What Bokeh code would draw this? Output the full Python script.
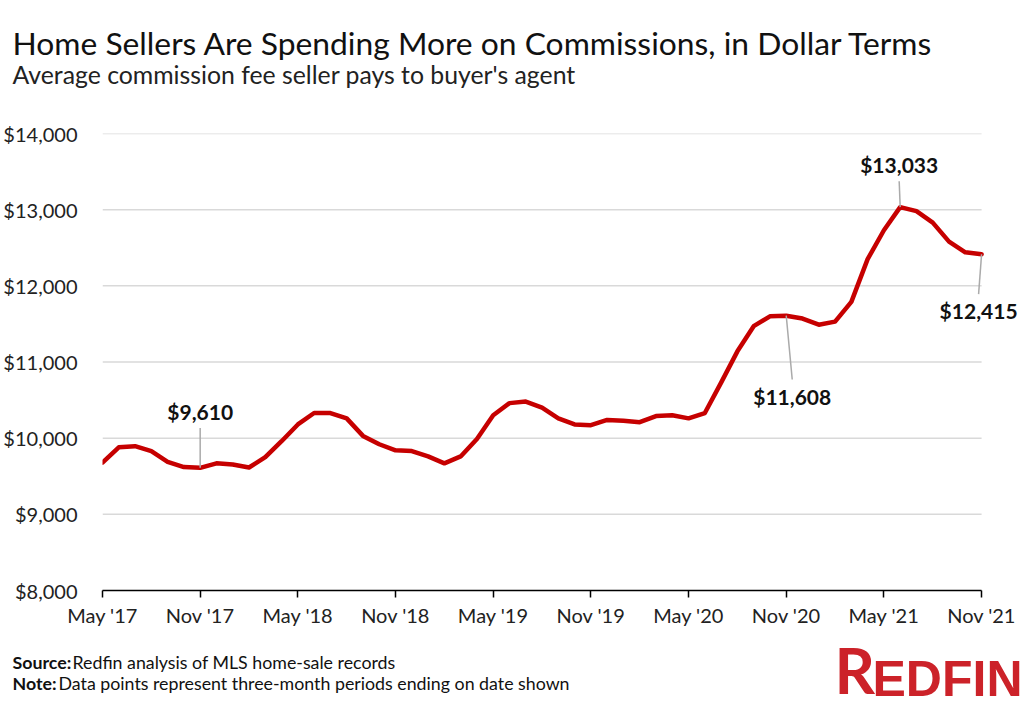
from bokeh.plotting import figure
from bokeh.layouts import column
from bokeh.models import Label, FixedTicker, Range1d, ColumnDataSource
from bokeh.core.properties import value
from bokeh.embed import file_html
from bokeh.resources import INLINE

# Average commission fee seller pays to buyer's agent, monthly (three-month periods)
month_labels = ["May '17", "Nov '17", "May '18", "Nov '18", "May '19",
                "Nov '19", "May '20", "Nov '20", "May '21", "Nov '21"]
commission = [
    9680, 9880, 9895, 9830, 9690, 9620, 9610, 9670, 9655, 9615, 9750, 9960,
    10180, 10330, 10330, 10260, 10030, 9920, 9840, 9830, 9760, 9670, 9760, 9990,
    10300, 10460, 10480, 10400, 10260, 10180, 10170, 10240, 10230, 10210, 10290, 10300,
    10260, 10330, 10730, 11140, 11470, 11600, 11608, 11570, 11490, 11530, 11790, 12350,
    12730, 13033, 12980, 12830, 12580, 12440, 12415,
]
months = list(range(len(commission)))
y_ticks = [8000, 9000, 10000, 11000, 12000, 13000, 14000]

# callouts: (month index, text, label dx px, label dy px)
callouts = [
    (6, "$9,610", 0, 44),
    (42, "$11,608", 6, -68),
    (49, "$13,033", -1, 30),
    (54, "$12,415", -3, -44),
]

FONT = "Lato"
W = 1024
N = len(commission)


def text_panel(height):
    """A blank figure whose data coordinates are canvas pixels (y downwards)."""
    f = figure(width=W, height=height, output_backend="svg", toolbar_location=None,
               x_range=Range1d(0, W), y_range=Range1d(height, 0),
               x_axis_location=None, y_axis_location=None,
               min_border=0, outline_line_color=None, frame_align=False)
    f.grid.visible = False
    return f


# ---------- header ----------
HEAD_H = 100
head = text_panel(HEAD_H)
head.text(x=[12], y=[42], text=["Home Sellers Are Spending More on Commissions, in Dollar Terms"],
          text_font=value(FONT), text_font_size="31.8px", text_color="#111111",
          text_baseline="alphabetic")
head.text(x=[12], y=[74], text=["Average commission fee seller pays to buyer's agent"],
          text_font=value(FONT), text_font_size="24.8px", text_color="#222222",
          text_baseline="alphabetic")

# ---------- main chart ----------
MAIN_H = 529
TOP, BOTTOM, LEFT, RIGHT = 33, 38, 100, 4
frame_w = W - LEFT - RIGHT
x_end = (N - 1) * frame_w / 881.0   # Nov '21 sits at the end of the axis line

p = figure(width=W, height=MAIN_H, output_backend="svg", toolbar_location=None,
           x_range=Range1d(0, x_end), y_range=Range1d(8000, 14000),
           min_border_left=LEFT, min_border_right=RIGHT,
           min_border_top=TOP, min_border_bottom=BOTTOM, frame_align=False)
p.outline_line_color = None
p.xgrid.grid_line_color = None
p.ygrid.grid_line_color = None

# horizontal gridlines that stop at the last month
p.segment(x0=[0] * (len(y_ticks) - 1), x1=[N - 1] * (len(y_ticks) - 1),
          y0=y_ticks[1:], y1=y_ticks[1:], line_color="#d9d9d9", line_width=1.5)

p.yaxis.ticker = FixedTicker(ticks=y_ticks)
p.yaxis.major_label_overrides = {t: "${:,}".format(t) for t in y_ticks}
p.yaxis.axis_line_color = None
p.yaxis.major_tick_line_color = None
p.yaxis.minor_tick_line_color = None
p.yaxis.major_label_text_font = FONT
p.yaxis.major_label_text_font_size = "20px"
p.yaxis.major_label_text_color = "#222222"
p.yaxis.major_label_standoff = 19

x_ticks = list(range(0, N, 6))
p.xaxis.ticker = FixedTicker(ticks=x_ticks)
p.xaxis.bounds = (0, N - 1)
p.xaxis.major_label_overrides = {t: lab for t, lab in zip(x_ticks, month_labels)}
p.xaxis.axis_line_color = "black"
p.xaxis.axis_line_width = 1.5
p.xaxis.major_tick_line_color = "black"
p.xaxis.major_tick_line_width = 1.5
p.xaxis.major_tick_in = 0
p.xaxis.major_tick_out = 7
p.xaxis.minor_tick_line_color = None
p.xaxis.major_label_text_font = FONT
p.xaxis.major_label_text_font_size = "20px"
p.xaxis.major_label_text_color = "#222222"
p.xaxis.major_label_standoff = 5

src = ColumnDataSource(dict(x=months, y=commission))
p.line("x", "y", source=src, line_color="#c60000", line_width=4.5,
       line_join="round", line_cap="round")

# callout leader lines and values
px_y = (MAIN_H - TOP - BOTTOM) / 6000.0
px_x = frame_w / x_end
for idx, txt, dx, dy in callouts:
    yv = commission[idx]
    gap = 4 if dy > 0 else -4
    y_lead = yv + (dy - gap) / px_y
    x_lead = idx + dx / px_x
    p.segment(x0=[idx], y0=[yv], x1=[x_lead], y1=[y_lead],
              line_color="#aaaaaa", line_width=1.5)
    p.add_layout(Label(x=x_lead, y=y_lead, text=txt, y_offset=gap,
                       text_align="center",
                       text_baseline="bottom" if dy > 0 else "top",
                       text_font=FONT, text_font_style="bold",
                       text_font_size="21px", text_color="#111111"))

# ---------- footer ----------
FOOT_H = 79
foot = text_panel(FOOT_H)
FS = "17.8px"
foot.text(x=[12], y=[43], text=["Source:"], text_font=value(FONT), text_font_size=FS,
          text_font_style="bold", text_color="#111111")
foot.text(x=[72], y=[43], text=["Redfin analysis of MLS home-sale records"],
          text_font=value(FONT), text_font_size=FS, text_color="#111111")
foot.text(x=[12], y=[64], text=["Note:"], text_font=value(FONT), text_font_size=FS,
          text_font_style="bold", text_color="#111111")
foot.text(x=[58], y=[64], text=["Data points represent three-month periods ending on date shown"],
          text_font=value(FONT), text_font_size=FS, text_color="#111111")
# wordmark
foot.text(x=[834], y=[77], text=["R"], text_font=value(FONT),
          text_font_size="63px", text_font_style="bold", text_color="#cc2229")
foot.text(x=[872], y=[77], text=["EDFIN"], text_font=value("Liberation Sans"),
          text_font_size="50px", text_font_style="bold", text_color="#cc2229")

layout = column(head, p, foot, spacing=0)
open("out.html", "w").write(file_html(layout, INLINE))
